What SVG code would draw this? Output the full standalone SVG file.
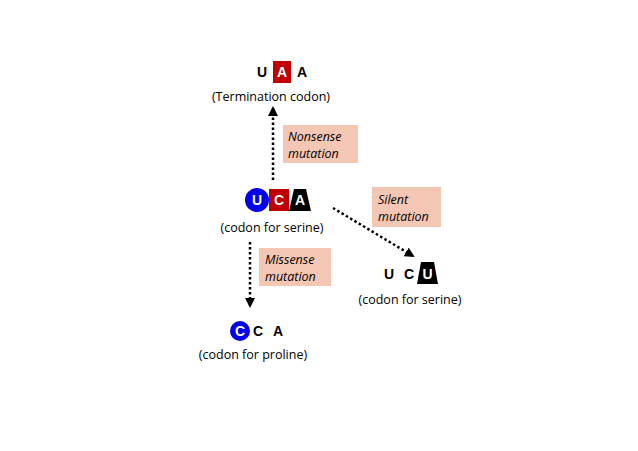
<svg xmlns="http://www.w3.org/2000/svg" width="638" height="451" viewBox="0 0 638 451">
<defs>
<style>
.t{font-family:"Open Sans","Liberation Sans",sans-serif;font-size:12.5px;fill:#000;text-anchor:middle}
.b{font-family:"Liberation Sans",Arial,sans-serif;font-weight:bold;font-size:14px;text-anchor:middle}
.lab{font-family:"Open Sans","Liberation Sans",sans-serif;font-style:italic;font-size:12.5px;fill:#000}
.box{fill:#f4c7b5}
.c{stroke:#000;stroke-width:2.5;stroke-dasharray:2.5 2.5;fill:none}
</style>
<marker id="ah" viewBox="0 0 10 10" refX="8" refY="5" markerWidth="4" markerHeight="4" orient="auto"><path d="M0,0L10,5L0,10z" fill="#000"/></marker>
</defs>
<rect width="638" height="451" fill="#fff"/>
<g id="connectors">
<line class="c" x1="273" y1="180" x2="273" y2="108" marker-end="url(#ah)"/>
<line class="c" x1="333" y1="208" x2="413" y2="256" marker-end="url(#ah)"/>
<line class="c" x1="250" y1="242" x2="250" y2="306" marker-end="url(#ah)"/>
</g>
<g id="uaa">
<text class="b" x="262" y="77">U</text>
<rect x="273" y="61" width="18" height="22" fill="#c00000"/>
<text class="b" x="282" y="77" fill="#fff">A</text>
<text class="b" x="302" y="77">A</text>
<text class="t" x="271" y="101">(Termination codon)</text>
</g>
<g id="nonsense"><rect class="box" x="283" y="125" width="75" height="38"/>
<text class="lab" x="288" y="141">Nonsense</text><text class="lab" x="288" y="158">mutation</text></g>
<g id="uca">
<circle cx="257" cy="200" r="12" fill="#0000ee"/>
<text class="b" x="257" y="205" fill="#fff">U</text>
<rect x="269" y="189" width="20" height="22" fill="#c00000"/>
<text class="b" x="279" y="205" fill="#fff">C</text>
<path d="M294,189H306L311,211H289Z" fill="#000"/>
<text class="b" x="300" y="205" fill="#fff">A</text>
<text class="t" x="272" y="232">(codon for serine)</text>
</g>
<g id="silent"><rect class="box" x="372" y="187" width="69" height="40"/>
<text class="lab" x="378" y="204">Silent</text><text class="lab" x="378" y="221">mutation</text></g>
<g id="ucu">
<text class="b" x="389" y="279">U</text>
<text class="b" x="409" y="279">C</text>
<path d="M421,262H434L438,284H417Z" fill="#000"/>
<text class="b" x="427.5" y="279" fill="#fff">U</text>
<text class="t" x="410" y="304">(codon for serine)</text>
</g>
<g id="missense"><rect class="box" x="259" y="248" width="72" height="38"/>
<text class="lab" x="265" y="264">Missense</text><text class="lab" x="265" y="281">mutation</text></g>
<g id="cca">
<circle cx="240" cy="331" r="10" fill="#0000ee"/>
<text class="b" x="240" y="336" fill="#fff">C</text>
<text class="b" x="258" y="336">C</text>
<text class="b" x="278" y="336">A</text>
<text class="t" x="253" y="359">(codon for proline)</text>
</g>
</svg>
